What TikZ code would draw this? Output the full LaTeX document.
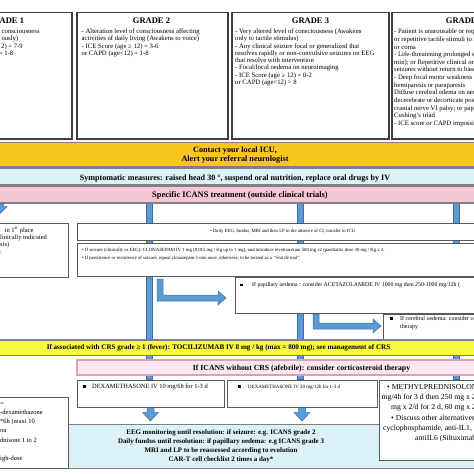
\documentclass[tikz,border=0pt]{standalone}
\usepackage{fontspec}
\setmainfont{Liberation Serif}
\usetikzlibrary{calc,fit,backgrounds}
\definecolor{gold}{HTML}{F9C61E}
\definecolor{lblue}{HTML}{DDF1F8}
\definecolor{pinkb}{HTML}{F5C5D8}
\definecolor{yellowb}{HTML}{F8F83C}
\definecolor{pinkl}{HTML}{FBE7EF}
\definecolor{pinkd}{HTML}{DDA0BA}
\definecolor{barblue}{HTML}{5B9BD5}
\definecolor{barborder}{HTML}{3A6EA5}
\definecolor{boxgray}{HTML}{595959}
\definecolor{boxdark}{HTML}{404040}
\definecolor{bandgray}{HTML}{808080}
\newcommand\tlines[6]{\foreach \t [count=\i] in {#6}{\node[#5] (#1-\i) at (#2,{#3+(\i-1)*#4}) {\t};}}
\newcommand\blockdn[5]{\path[bar] ({#1-3.5},#2) -- ({#1+3.5},#2) -- ({#1+3.5},#3) -- ({#1+#5},#3) -- (#1,#4) -- ({#1-#5},#3) -- ({#1-3.5},#3) -- cycle;}
\newcommand\sqb{\rule[0.2pt]{2.4pt}{2.4pt}}
\newcommand\bsz[1]{\bfseries\fontsize{#1}{9}\selectfont}
\begin{document}
\begin{tikzpicture}[x=1pt,y=-1pt,
 gbox/.style={draw=boxdark, line width=1.1pt, fill=white, inner sep=0pt},
 wbox/.style={draw=boxgray, line width=0.8pt, fill=white, inner sep=0pt},
 band/.style={draw=bandgray, line width=1.3pt, inner sep=0pt},
 title/.style={font=\bfseries\fontsize{8.5}{9}\selectfont, inner sep=0pt},
 gtext/.style={font=\fontsize{6.7}{7}\selectfont, inner sep=0pt},
 btext/.style={font=\bfseries\fontsize{7.4}{8}\selectfont, inner sep=0pt},
 stext/.style={font=\fontsize{4.75}{5}\selectfont, inner sep=0pt},
 ptext/.style={font=\fontsize{5.8}{6}\selectfont, inner sep=0pt},
 mtext/.style={font=\fontsize{7.7}{8}\selectfont, inner sep=0pt},
 ltext/.style={font=\fontsize{6.5}{7}\selectfont, inner sep=0pt},
 bar/.style={fill=barblue, draw=barborder, line width=0.5pt},
]
\useasboundingbox (0,0) rectangle (474,474);
\clip (0,0) rectangle (474,474);
% grade boxes
\node[gbox, fit={(-63,12.5) (72,139)}] (g1) {};
\node[gbox, fit={(77,12.5) (228,139)}] (g2) {};
\node[gbox, fit={(232,12.5) (389,139)}] (g3) {};
\node[gbox, fit={(392,12.5) (540,139)}] (g4) {};
\node[title, anchor=base] (t1) at (5.5,23) {GRADE 1};
\node[title, anchor=base] (t2) at (151.5,23) {GRADE 2};
\node[title, anchor=base] (t3) at (310.5,23) {GRADE 3};
\node[title, anchor=base] (t4) at (464.5,23) {GRADE 4};
% grade 1 fragments
\node[gtext, anchor=base west] (g1a) at (1.5,33.7) {consciousness};
\node[gtext, anchor=base east] (g1b) at (18.5,40.95) {ously)};
\node[gtext, anchor=base east] (g1c) at (23,48.2) {2) = 7-9};
\node[gtext, anchor=base east] (g1d) at (13.5,55.45) {= 1-8};
\tlines{g2l}{81.5}{33.7}{7.25}{gtext, anchor=base west}{{- Alteration level of consciousness affecting},{activities of daily living (Awakens to voice)},{- ICE Score  (age ≥ 12) = 3-6},{or CAPD (age<12) = 1-8}}
\tlines{g3l}{235}{33.7}{7.25}{gtext, anchor=base west}{{- Very altered level of consciousness (Awakens},{only to tactile stimulus)},{- Any clinical seizure focal or generalized that},{resolves rapidly or non-convulsive seizures on EEG},{that resolve with intervention},{- Focal/local oedema on neuroimaging},{- ICE Score  (age ≥ 12)  = 0-2},{or CAPD (age<12) > 8}}
\tlines{g4l}{394}{33.7}{7.65}{gtext, anchor=base west}{{- Patient is unarousable or requires vigorous},{or repetitive tactile stimuli to arouse},{or coma},{- Life-threatening prolonged seizure (> 5},{min); or Repetitive clinical or electrical},{seizures without return to baseline in between},{- Deep focal motor weakness such as},{hemiparesis or paraparesis},{Diffuse cerebral edema on neuroimaging;},{decerebrate or decorticate posturing; or},{cranial nerve VI palsy; or papilledema; or},{Cushing's triad},{- ICE score or CAPD impossible}}
% bands
\node[band, fill=gold, fit={(-5,142.5) (480,167)}] (icu) {};
\node[band, fill=lblue, fit={(-5,168.5) (480,184.5)}] (sympt) {};
\node[band, fill=pinkb, fit={(-5,186) (480,203)}] (spec) {};
\node[btext, font=\bsz{8.2}, anchor=base] (icut1) at (235,152.5) {Contact your local ICU,};
\node[btext, font=\bsz{8.2}, anchor=base] (icut2) at (235,161.2) {Alert your referral neurologist};
\node[btext, font=\bsz{8.1}, anchor=base] (symt) at (235,180.5) {Symptomatic measures: raised head 30 °, suspend oral nutrition, replace oral drugs by IV};
\node[btext, font=\bsz{8.4}, anchor=base] (spect) at (240,197.5) {Specific ICANS treatment (outside clinical trials)};
% boxes
\node[wbox, fit={(-10,223) (68,277)}] (left1) {};
\node[wbox, fit={(77,223) (540,240)}] (daily) {};
\node[wbox, fit={(77,243) (540,276.5)}] (seiz) {};
\node[wbox, fit={(235,277.5) (540,313)}] (pap) {};
\node[wbox, fit={(383,314) (540,339)}] (cereb) {};
\node[band, fill=yellowb, fit={(-5,340) (480,355.5)}] (crs) {};
\node[draw=pinkd, line width=1.2pt, fill=pinkl, inner sep=0pt, fit={(77,360) (540,375)}] (icans) {};
\node[wbox, fit={(77,380) (224,407)}] (dexa1) {};
\node[wbox, fit={(227,380) (377,407)}] (dexa2) {};
\node[band, fill=lblue, line width=1pt, fit={(68,424) (540,468)}] (bottom) {};
\node[wbox, fit={(379,380) (540,460)}] (methyl) {};
\node[wbox, fit={(-10,397) (68,468)}] (left2) {};
% bars (behind)
\begin{scope}[on background layer]
\fill[white] (0,0) rectangle (474,474);
\coordinate (xa) at (149.5,0);
\coordinate (xb) at (300.5,0);
\coordinate (xc) at (456.5,0);
\path[bar] ($(xa |- spec.south)+(-3.2,0)$) rectangle ($(xa |- dexa1.north)+(3.2,0)$);
\path[bar] ($(xb |- spec.south)+(-3.2,0)$) rectangle ($(xb |- dexa2.north)+(3.2,0)$);
\path[bar] ($(xc |- spec.south)+(-3.2,0)$) rectangle ($(xc |- methyl.north)+(3.2,0)$);
\end{scope}
% L arrows
\path[bar] (157,279) -- (163,279) -- (163,295) -- (218,295) -- (218,291) -- (226,298) -- (218,305) -- (218,301) -- (157,301) -- cycle;
\path[bar] (313,314) -- (319,314) -- (319,323) -- (373,323) -- (373,319) -- (381,326) -- (373,333) -- (373,329) -- (313,329) -- cycle;
% block arrows
\blockdn{0}{203.5}{206.5}{213.5}{7}
\blockdn{150.5}{407.5}{412.5}{421}{8}
\blockdn{302}{407.5}{412.5}{421}{8}
% left texts
\node[ltext, anchor=base west] (l1a) at (4.5,232) {in 1\textsuperscript{st} place};
\node[ltext, anchor=base west] (l1b) at (0,239.5) {linically indicated};
\node[ltext, anchor=base west] (l1c) at (0,246.8) {sis)};
\node[ltext, anchor=base west] (l1d) at (0,254) {:};
\node[ltext, anchor=base west] (l2a) at (0,405) {=};
\node[ltext, anchor=base west] (l2b) at (0,414.5) {-dexamethazone};
\node[ltext, anchor=base west] (l2c) at (0,423.5) {*6h (maxi 10};
\node[ltext, anchor=base west] (l2d) at (0,432.5) {ou};
\node[ltext, anchor=base west] (l2e) at (0,442) {dnisone 1 to 2};
\node[ltext, anchor=base west] (l2f) at (0,460.5) {igh-dose};
% central texts
\node[stext, anchor=base west] (dailyt) at (210,232) {• Daily EEG, fundus, MRI and then LP in the absence of CI, transfer to ICU};
\node[stext, anchor=base west] (seiz1) at (82,251.5) {• If seizure (clinically or EEG): CLONAZEPAM IV 1 mg (0.015 mg / Kg up to 1 mg), and introduce levetiracetam 500 mg x2 (paediatric dose 30 mg / Kg x 2,};
\node[stext, anchor=base west] (seiz2) at (82,259.5) {• If persistence or recurrence of seizure, repeat clonazepam 5 min once, otherwise, to be treated as a \ “état de mal”};
\node[ptext, anchor=base west] (papb) at (240,286.5) {\sqb};
\node[ptext, anchor=base west] (papt) at (252,286.5) {If papillary oedema : consider ACETAZOLAMIDE IV 1000 mg then 250-1000 mg/12h (};
\node[ptext, anchor=base west] (cerb) at (390,320) {\sqb};
\node[ptext, font=\fontsize{6}{6}\selectfont, anchor=base west] (cert1) at (400,320) {If cerebral oedema: consider corticosteroid};
\node[ptext, font=\fontsize{6}{6}\selectfont, anchor=base west] (cert2) at (400,328.5) {therapy};
\node[btext, font=\bsz{7.1}, anchor=base] (crst) at (218.5,349.5) {If associated with CRS grade ≥ 1 (fever): TOCILIZUMAB IV 8 mg / kg (max = 800 mg); see management of CRS};
\node[btext, font=\bsz{7.75}, anchor=base] (icanst) at (301.5,370) {If ICANS without CRS (afebrile): consider corticosteroid therapy};
\node[ptext, anchor=base west] (d1b) at (83,388) {\sqb};
\node[ptext, font=\fontsize{6.4}{7}\selectfont, anchor=base west] (d1t) at (92,388) {DEXAMETHASONE IV 10 mg/6h for 1-3 d};
\node[stext, anchor=base west] (d2b) at (238,388) {\sqb};
\node[stext, font=\fontsize{4.95}{5}\selectfont, anchor=base west] (d2t) at (248,388) {DEXAMETHASONE IV 20 mg/12h for 1-3 d};
\node[mtext, anchor=base west] (m1) at (387,389) {• METHYLPREDNISOLONE IV 1000};
\node[mtext, anchor=base west] (m2) at (381.5,399) {mg/4h for 3 d then 250 mg x 2/d};
\node[mtext, anchor=base west] (m3) at (391,409) {mg x 2/d for 2 d, 60 mg x 2/d};
\node[mtext, anchor=base west] (m4) at (391,420) {• Discuss other alternatives:};
\node[mtext, anchor=base west] (m5) at (383,430) {cyclophosphamide, anti-IL1,};
\node[mtext, anchor=base west] (m6) at (415,440) {antiIL6 (Siltuximab)};
\tlines{bt}{221}{434.5}{9}{btext, font=\bsz{6.9}, anchor=base}{{EEG monitoring until resolution: if seizure: e.g. ICANS grade 2},{Daily fundus until resolution: if papillary oedema: e.g ICANS grade 3},{MRI and LP to be reassessed according to evolution},{CAR-T cell checklist 2 times a day*}}
\end{tikzpicture}
\end{document}
